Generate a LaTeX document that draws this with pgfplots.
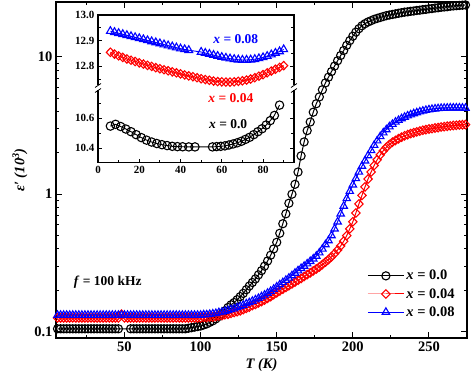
\documentclass[border=0pt]{standalone}
\usepackage{fontspec}
\setmainfont{Liberation Serif}
\usepackage{pgfplots}
\pgfplotsset{compat=1.18}
\usepackage{pgfplotstable}

\pgfplotstableread[row sep=\\]{
T v\\
6 0.105\\ 8 0.105\\ 10 0.105\\ 12 0.105\\ 14 0.105\\ 16 0.105\\ 18 0.105\\ 20 0.105\\ 22 0.105\\ 24 0.105\\
26 0.105\\ 28 0.105\\ 30 0.105\\ 32 0.105\\ 34 0.105\\ 36 0.105\\ 38 0.105\\ 40 0.105\\ 42 0.105\\ 44 0.105\\
46 0.105\\ 54 0.105\\ 56 0.105\\ 58 0.105\\ 60 0.105\\ 62 0.105\\ 64 0.105\\ 66 0.105\\ 68 0.105\\ 70 0.105\\
72 0.105\\ 74 0.105\\ 76 0.105\\ 78 0.105\\ 80 0.105\\ 82 0.105\\ 84 0.105\\ 86 0.105\\ 88 0.105\\ 90 0.105\\
92 0.106\\ 94 0.107\\ 96 0.108\\ 98 0.109\\ 100 0.110\\ 102 0.112\\ 104 0.114\\ 106 0.117\\ 108 0.120\\ 110 0.124\\
112 0.129\\ 114 0.135\\ 116 0.142\\ 118 0.150\\ 120 0.157\\ 122 0.163\\ 124 0.171\\ 126 0.180\\ 128 0.190\\ 130 0.202\\
132 0.215\\ 134 0.228\\ 136 0.242\\ 138 0.259\\ 140 0.278\\ 142 0.300\\ 144 0.327\\ 146 0.360\\ 148 0.400\\ 150 0.447\\
152 0.52\\ 154 0.61\\ 156 0.72\\ 158 0.86\\ 160 1.0\\ 162 1.18\\ 164 1.45\\ 166 1.9\\ 168 2.4\\ 170 2.9\\
172 3.35\\ 174 3.95\\ 176 4.55\\ 178 5.1\\ 180 5.75\\ 182 6.45\\ 184 7.1\\ 186 7.8\\ 188 8.55\\ 190 9.35\\
192 10.2\\ 194 11.1\\ 196 12.1\\ 198 13.1\\ 200 14.1\\ 202 15.1\\ 204 16.0\\ 206 16.8\\ 208 17.4\\ 210 17.9\\
212 18.3\\ 214 18.7\\ 216 19.0\\ 218 19.3\\ 220 19.6\\ 222 19.9\\ 224 20.1\\ 226 20.3\\ 228 20.5\\ 230 20.7\\
232 20.9\\ 234 21.1\\ 236 21.2\\ 238 21.4\\ 240 21.5\\ 242 21.7\\ 244 21.8\\ 246 22.0\\ 248 22.1\\ 250 22.3\\
252 22.4\\ 254 22.6\\ 256 22.7\\ 258 22.9\\ 260 23.0\\ 262 23.1\\ 264 23.3\\ 266 23.4\\ 268 23.5\\ 270 23.6\\
272 23.7\\ 274 23.8\\
}\blackmain

\pgfplotstableread[row sep=\\]{
T v\\
6 0.126\\ 8 0.126\\ 10 0.126\\ 12 0.126\\ 14 0.126\\ 16 0.126\\ 18 0.126\\ 20 0.126\\ 22 0.126\\ 24 0.126\\
26 0.126\\ 28 0.126\\ 30 0.126\\ 32 0.126\\ 34 0.126\\ 36 0.126\\ 38 0.126\\ 40 0.126\\ 42 0.126\\ 44 0.126\\
46 0.126\\ 48 0.134\\ 50 0.126\\ 52 0.126\\ 54 0.126\\ 56 0.126\\ 58 0.126\\ 60 0.126\\ 62 0.126\\ 64 0.126\\
66 0.126\\ 68 0.126\\ 70 0.126\\ 72 0.126\\ 74 0.126\\ 76 0.126\\ 78 0.126\\ 80 0.126\\ 82 0.126\\ 84 0.126\\
86 0.126\\ 88 0.126\\ 90 0.126\\ 92 0.126\\ 94 0.126\\ 96 0.126\\ 98 0.126\\ 100 0.126\\ 102 0.127\\ 104 0.127\\
106 0.128\\ 108 0.128\\ 110 0.129\\ 112 0.130\\ 114 0.131\\ 116 0.133\\ 118 0.134\\ 120 0.136\\ 122 0.138\\ 124 0.140\\
126 0.142\\ 128 0.145\\ 130 0.148\\ 132 0.151\\ 134 0.155\\ 136 0.158\\ 138 0.162\\ 140 0.166\\ 142 0.170\\ 144 0.175\\
146 0.180\\ 148 0.186\\ 150 0.192\\ 152 0.198\\ 154 0.204\\ 156 0.210\\ 158 0.216\\ 160 0.223\\ 162 0.230\\ 164 0.237\\
166 0.244\\ 168 0.252\\ 170 0.260\\ 172 0.268\\ 174 0.277\\ 176 0.286\\ 178 0.296\\ 180 0.308\\ 182 0.321\\ 184 0.335\\
186 0.351\\ 188 0.370\\ 190 0.393\\ 192 0.42\\ 194 0.455\\ 196 0.50\\ 198 0.56\\ 200 0.63\\ 202 0.73\\ 204 0.85\\
206 0.98\\ 208 1.13\\ 210 1.29\\ 212 1.45\\ 214 1.62\\ 216 1.78\\ 218 1.93\\ 220 2.07\\ 222 2.19\\ 224 2.30\\
226 2.39\\ 228 2.46\\ 230 2.53\\ 232 2.60\\ 234 2.66\\ 236 2.71\\ 238 2.76\\ 240 2.80\\ 242 2.84\\ 244 2.88\\
246 2.92\\ 248 2.95\\ 250 2.98\\ 252 3.00\\ 254 3.03\\ 256 3.05\\ 258 3.08\\ 260 3.10\\ 262 3.12\\ 264 3.14\\
266 3.16\\ 268 3.17\\ 270 3.19\\ 272 3.20\\ 274 3.21\\
}\redmain

\pgfplotstableread[row sep=\\]{
T v\\
6 0.132\\ 8 0.132\\ 10 0.132\\ 12 0.132\\ 14 0.132\\ 16 0.132\\ 18 0.132\\ 20 0.132\\ 22 0.132\\ 24 0.132\\
26 0.132\\ 28 0.132\\ 30 0.132\\ 32 0.132\\ 34 0.132\\ 36 0.132\\ 38 0.132\\ 40 0.132\\ 42 0.132\\ 44 0.132\\
46 0.132\\ 48 0.132\\ 50 0.132\\ 52 0.132\\ 54 0.132\\ 56 0.132\\ 58 0.132\\ 60 0.132\\ 62 0.132\\ 64 0.132\\
66 0.132\\ 68 0.132\\ 70 0.132\\ 72 0.132\\ 74 0.132\\ 76 0.132\\ 78 0.132\\ 80 0.132\\ 82 0.132\\ 84 0.132\\
86 0.132\\ 88 0.132\\ 90 0.132\\ 92 0.132\\ 94 0.132\\ 96 0.132\\ 98 0.132\\ 100 0.132\\ 102 0.133\\ 104 0.133\\
106 0.134\\ 108 0.135\\ 110 0.136\\ 112 0.138\\ 114 0.139\\ 116 0.141\\ 118 0.143\\ 120 0.145\\ 122 0.147\\ 124 0.150\\
126 0.153\\ 128 0.156\\ 130 0.160\\ 132 0.163\\ 134 0.167\\ 136 0.171\\ 138 0.175\\ 140 0.180\\ 142 0.185\\ 144 0.191\\
146 0.197\\ 148 0.204\\ 150 0.212\\ 152 0.220\\ 154 0.228\\ 156 0.237\\ 158 0.246\\ 160 0.256\\ 162 0.267\\ 164 0.278\\
166 0.289\\ 168 0.300\\ 170 0.312\\ 172 0.325\\ 174 0.339\\ 176 0.355\\ 178 0.375\\ 180 0.40\\ 182 0.43\\ 184 0.46\\
186 0.50\\ 188 0.56\\ 190 0.63\\ 192 0.72\\ 194 0.82\\ 196 0.93\\ 198 1.05\\ 200 1.17\\ 202 1.30\\ 204 1.45\\
206 1.60\\ 208 1.75\\ 210 1.91\\ 212 2.08\\ 214 2.27\\ 216 2.45\\ 218 2.63\\ 220 2.80\\ 222 2.95\\ 224 3.10\\
226 3.23\\ 228 3.35\\ 230 3.45\\ 232 3.55\\ 234 3.64\\ 236 3.72\\ 238 3.79\\ 240 3.86\\ 242 3.92\\ 244 3.98\\
246 4.03\\ 248 4.08\\ 250 4.12\\ 252 4.15\\ 254 4.18\\ 256 4.20\\ 258 4.22\\ 260 4.23\\ 262 4.24\\ 264 4.25\\
266 4.25\\ 268 4.25\\ 270 4.25\\ 272 4.24\\ 274 4.23\\
}\bluemain

\pgfplotstableread[row sep=\\]{
T v\\
6 10.548\\ 8.5 10.560\\ 11 10.545\\ 13.5 10.528\\ 16 10.510\\ 18.5 10.490\\ 21 10.470\\ 23.5 10.453\\
26 10.440\\ 28.5 10.430\\ 31 10.422\\ 33.5 10.416\\ 36 10.411\\ 38.5 10.409\\ 41 10.408\\ 44 10.407\\ 47 10.407\\
55.5 10.407\\ 57.5 10.409\\ 59.5 10.411\\ 61.5 10.414\\ 63.5 10.420\\ 65.5 10.427\\ 67.5 10.435\\ 69.5 10.445\\
71.5 10.458\\ 73.5 10.472\\ 75.5 10.490\\ 77.5 10.510\\ 79.5 10.530\\ 81.5 10.555\\ 83.5 10.585\\ 85.5 10.620\\ 88 10.690\\
}\blackin

\pgfplotstableread[row sep=\\]{
T v\\
6 12.855\\ 8 12.848\\ 10 12.841\\ 12 12.835\\ 14 12.829\\ 16 12.824\\ 18 12.819\\ 20 12.814\\ 22 12.809\\ 24 12.804\\
26 12.800\\ 28 12.795\\ 30 12.791\\ 32 12.787\\ 34 12.783\\ 36 12.779\\ 38 12.775\\ 40 12.771\\ 42 12.767\\ 44 12.763\\
46 12.760\\ 48 12.756\\ 50 12.752\\ 52 12.749\\ 54 12.746\\ 56 12.743\\ 58 12.741\\ 60 12.740\\ 62 12.739\\ 64 12.739\\
66 12.740\\ 68 12.742\\ 70 12.744\\ 72 12.747\\ 74 12.751\\ 76 12.756\\ 78 12.762\\ 80 12.768\\ 82 12.775\\ 84 12.782\\
86 12.789\\ 88 12.796\\ 90 12.803\\
}\redin

\pgfplotstableread[row sep=\\]{
T v\\
6 12.937\\ 8 12.933\\ 10 12.929\\ 12 12.925\\ 14 12.921\\ 16 12.917\\ 18 12.913\\ 20 12.909\\ 22 12.905\\ 24 12.901\\
26 12.897\\ 28 12.893\\ 30 12.889\\ 32 12.885\\ 34 12.881\\ 36 12.877\\ 38 12.873\\ 40 12.869\\ 42 12.866\\ 44 12.863\\
50 12.856\\ 52 12.852\\ 54 12.848\\ 56 12.844\\ 58 12.840\\ 60 12.836\\ 62 12.833\\ 64 12.830\\ 66 12.828\\ 68 12.826\\
70 12.825\\ 72 12.825\\ 74 12.826\\ 76 12.828\\ 78 12.831\\ 80 12.835\\ 82 12.840\\ 84 12.846\\ 86 12.852\\ 88 12.858\\
90 12.866\\
}\bluein

\begin{document}
\begin{tikzpicture}
\useasboundingbox (-56bp,-42bp) rectangle (418bp,338bp);
\begin{axis}[
  name=main, at={(0,0)}, anchor=south west,
  scale only axis, width=411bp, height=336bp,
  ymode=log, xmin=5, xmax=275, ymin=0.09, ymax=25,
  xtick={50,100,150,200,250}, minor xtick={25,75,125,175,225},
  ytick={0.1,1,10}, yticklabels={0.1,1,10},
  tick align=inside, major tick length=6bp, minor tick length=3.5bp,
  every tick/.style={line width=1bp, black},
  axis line style={line width=1.7bp},
  /pgf/number format/assume math mode=true,
  ticklabel style={font=\fontsize{14.5bp}{16bp}\selectfont\bfseries},
  xlabel={\bfseries\itshape T (K)},
  ylabel={\bfseries\itshape ε′ (10\textsuperscript{3})},
  label style={font=\fontsize{14.5bp}{16bp}\selectfont},
  legend style={draw=none, fill=none, font=\fontsize{14.5bp}{16bp}\selectfont\bfseries,
    at={(0.975,0.131)}, anchor=east, row sep=3bp, inner sep=0pt},
  legend cell align=left,
  legend image code/.code={\draw[#1, mark repeat=2, mark phase=2] plot coordinates {(0bp,0bp) (18bp,0bp) (36bp,0bp)};},
]
\addplot[black, line width=1bp, mark=o, mark size=4.1bp, mark options={line width=1.1bp}] table[x=T,y=v] {\blackmain};
\addlegendentry{\textit{x} = 0.0}
\addplot[red, line width=1bp, mark=diamond, mark size=4.3bp, mark options={line width=1.1bp, xscale=1.3}] table[x=T,y=v] {\redmain};
\addlegendentry{\textit{x} = 0.04}
\addplot[blue, line width=1bp, mark=triangle, mark size=4.3bp, mark options={line width=1.1bp}] table[x=T,y=v] {\bluemain};
\addlegendentry{\textit{x} = 0.08}
\node[font=\fontsize{13.5bp}{15bp}\selectfont\bfseries] at (axis cs:39,0.231) {\textit{f} = 100 kHz};
\end{axis}

\begin{axis}[
  name=up, at={(42bp,250bp)}, anchor=south west,
  scale only axis, width=196bp, height=73bp,
  xmin=0, xmax=95, ymin=12.716, ymax=13.0,
  xtick=\empty,
  ytick={12.8,12.9,13.0}, yticklabels={12.8,12.9,13.0}, minor ytick={12.75,12.85,12.95},
  axis line style={draw=none},
  axis background/.style={fill=white},
  tick align=inside, major tick length=4bp, minor tick length=2.5bp,
  every tick/.style={line width=0.8bp, black},
  /pgf/number format/assume math mode=true,
  ticklabel style={font=\fontsize{11bp}{12bp}\selectfont\bfseries},
]
\addplot[red, line width=0.9bp, mark=diamond, mark size=4.2bp, mark options={line width=1.1bp, xscale=1.3}] table[x=T,y=v] {\redin};
\addplot[blue, line width=0.9bp, mark=triangle, mark size=4.5bp, mark options={line width=1.1bp}] table[x=T,y=v] {\bluein};
\node[text=blue, font=\fontsize{13.5bp}{15bp}\selectfont\bfseries] at (axis cs:66.8,12.905) {\textit{x} = 0.08};
\end{axis}

\begin{axis}[
  name=lo, at={(42bp,175.3bp)}, anchor=south west,
  scale only axis, width=196bp, height=74.7bp,
  xmin=0, xmax=95, ymin=10.3, ymax=10.806,
  xtick={0,20,40,60,80}, minor xtick={10,30,50,70,90}, xtick pos=left,
  ytick={10.4,10.6}, yticklabels={10.4,10.6}, minor ytick={10.5,10.7},
  axis line style={draw=none},
  axis background/.style={fill=white},
  tick align=inside, major tick length=4bp, minor tick length=2.5bp,
  every tick/.style={line width=0.8bp, black},
  /pgf/number format/assume math mode=true,
  ticklabel style={font=\fontsize{11bp}{12bp}\selectfont\bfseries},
]
\addplot[black, line width=0.9bp, mark=o, mark size=4.2bp, mark options={line width=1.1bp}] table[x=T,y=v] {\blackin};
\node[text=red, font=\fontsize{13.5bp}{15bp}\selectfont\bfseries] at (axis cs:64.4,10.736) {\textit{x} = 0.04};
\node[text=black, font=\fontsize{13.5bp}{15bp}\selectfont\bfseries] at (axis cs:63.1,10.561) {\textit{x} = 0.0};
\end{axis}

\draw[line width=1.1bp] ([yshift=-2.5bp]lo.north west) -- (lo.south west) -- (lo.south east) -- ([yshift=-2.5bp]lo.north east);
\draw[line width=1.1bp] ([yshift=2.5bp]up.south west) -- (up.north west) -- (up.north east) -- ([yshift=2.5bp]up.south east);
\foreach \p in {lo.north west, lo.north east}{
  \draw[line width=0.8bp] ([shift={(-3bp,-4.5bp)}]\p) -- ([shift={(3bp,-0.5bp)}]\p);
  \draw[line width=0.8bp] ([shift={(-3bp,0.5bp)}]\p) -- ([shift={(3bp,4.5bp)}]\p);
}
\end{tikzpicture}
\end{document}
